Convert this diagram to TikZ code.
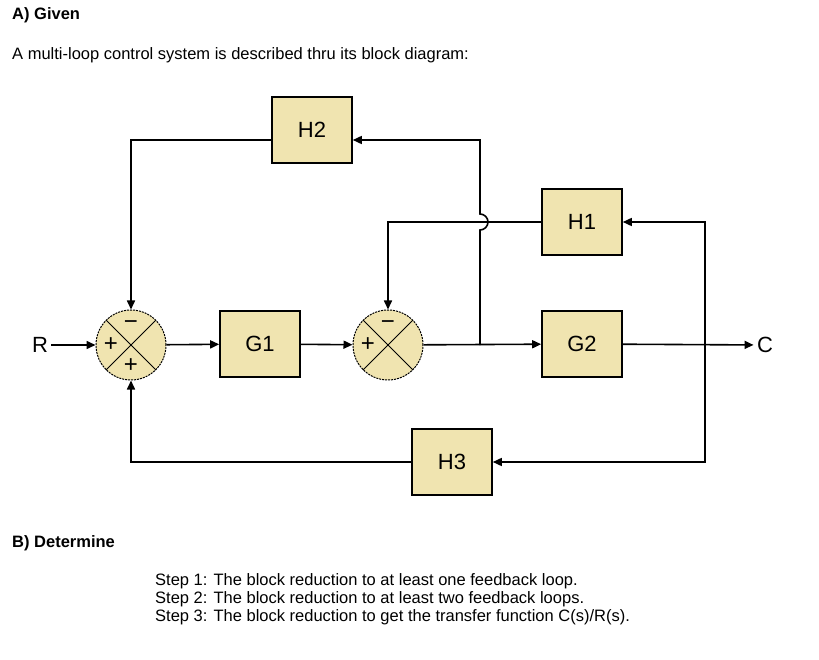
\documentclass[tikz,border=0pt]{standalone}
\usepackage{fontspec}
\setmainfont{Liberation Sans}
\usetikzlibrary{arrows.meta}
\definecolor{boxfill}{RGB}{240,228,176}
\begin{document}
\begin{tikzpicture}[x=1pt,y=-1pt,
  blk/.style={draw,line width=1.6pt,fill=boxfill,minimum width=80pt,minimum height=66pt,font=\fontsize{22}{24}\selectfont},
  sum/.style={draw,dashed,dash pattern=on 2pt off 1pt,line width=1pt,fill=boxfill,circle,minimum size=70pt,inner sep=0pt},
  ln/.style={line width=1.6pt},
  ar/.style={ln,-{Triangle[length=9pt,width=8pt]}},
  sg/.style={font=\fontsize{24}{24}\selectfont,inner sep=0pt},
  txt/.style={anchor=west,inner sep=0pt,font=\fontsize{16.5}{18}\selectfont}]
\useasboundingbox (0,0) rectangle (819,660);
\node[txt,font=\bfseries\fontsize{16.5}{18}\selectfont] (t1) at (12,15) {A) Given};
\node[txt] (t2) at (12,55) {A multi-loop control system is described thru its block diagram:};
\node[txt,font=\bfseries\fontsize{16.5}{18}\selectfont] (t3) at (12,543) {B) Determine};
\node[txt] (s1) at (155,581) {Step 1: The block reduction to at least one feedback loop.};
\node[txt] (s2) at (155,599) {Step 2: The block reduction to at least two feedback loops.};
\node[txt] (s3) at (155,617) {Step 3: The block reduction to get the transfer function C(s)/R(s).};

\node[sum] (S1) at (131,345) {};
\node[sum] (S2) at (388,345) {};
\foreach \s/\x in {S1/131,S2/388}{
  \draw[line width=0.8pt] (\s.north west) -- (\s.south east) (\s.north east) -- (\s.south west);
  \node[sg] at (\x-20,345) {+};
  \node[sg] at (\x,325) {\textminus};
}
\node[sg] at (131,366) {+};

\node[blk] (G1) at (260,344) {G1};
\node[blk] (G2) at (582,344) {G2};
\node[blk] (H2) at (312,130) {H2};
\node[blk] (H1) at (582,222) {H1};
\node[blk] (H3) at (452,462) {H3};

\node[font=\fontsize{22}{24}\selectfont] (R) at (40,345) {R};
\node[font=\fontsize{22}{24}\selectfont] (C) at (765,345) {C};
\coordinate (b1) at (480,345);
\coordinate (b2) at (705,345);

\draw[ar] (R) -- (S1);
\draw[ar] (S1) -- (G1);
\draw[ar] (G1) -- (S2);
\draw[ar] (S2) -- (G2);
\draw[ar] (G2) -- (C);
\draw[ar] (b1) -- (480,230) arc[start angle=-90,end angle=90,radius=8pt] -- (480,140) -- (H2.east |- 0,140);
\draw[ar] (H2.west |- 0,140) -- (131,140) -- (S1.north);
\draw[ar] (H1.west) -- (388,222) -- (S2.north);
\draw[ar] (b2) -- (705,222) -- (H1.east);
\draw[ar] (b2) -- (705,462) -- (H3.east);
\draw[ar] (H3.west) -- (131,462) -- (S1.south);
\end{tikzpicture}
\end{document}
